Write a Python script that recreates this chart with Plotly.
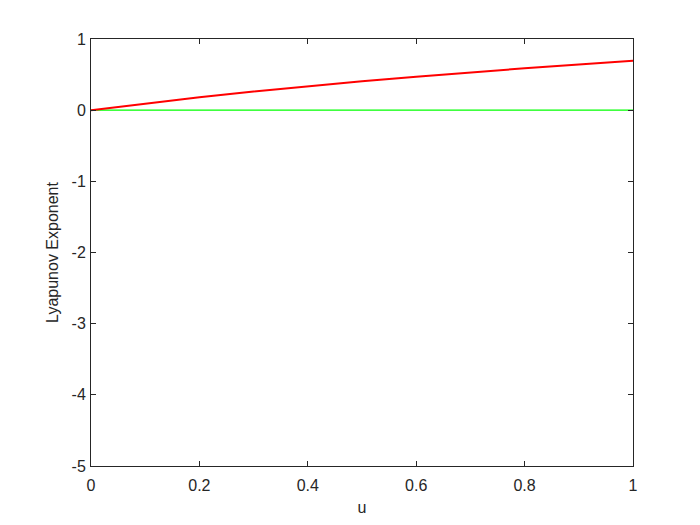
import plotly.graph_objects as go

u_vals = [0.0, 0.1, 0.2, 0.3, 0.4, 0.5, 0.6, 0.7, 0.8, 0.9, 1.0]
lyap_red = [0.0, 0.095, 0.182, 0.262, 0.336, 0.405, 0.470, 0.531, 0.588, 0.642, 0.693]
lyap_green = [0.0] * len(u_vals)

x_ticks = [0, 0.2, 0.4, 0.6, 0.8, 1]
x_tick_labels = ["0", "0.2", "0.4", "0.6", "0.8", "1"]
y_ticks = [-5, -4, -3, -2, -1, 0, 1]
y_tick_labels = ["-5", "-4", "-3", "-2", "-1", "0", "1"]

fig = go.Figure()
fig.add_trace(go.Scatter(x=u_vals, y=lyap_green, mode="lines",
                         line=dict(color="#00ff00", width=1.2), showlegend=False))
fig.add_trace(go.Scatter(x=u_vals, y=lyap_red, mode="lines",
                         line=dict(color="#ff0000", width=2), showlegend=False))

axis_common = dict(showgrid=False, zeroline=False, showline=True, linecolor="#262626",
                   linewidth=1, mirror="ticks", ticks="inside", ticklen=5,
                   tickcolor="#262626", tickfont=dict(size=16, color="#262626"))

fig.update_layout(
    width=700, height=525,
    paper_bgcolor="white", plot_bgcolor="white",
    margin=dict(l=83, r=75, t=31, b=67),
    font=dict(family="Liberation Sans, Arial, sans-serif", size=16, color="#262626"),
    xaxis=dict(range=[0, 1], tickvals=x_ticks, ticktext=x_tick_labels, ticklabelstandoff=5,
               title=dict(text="u", font=dict(size=16), standoff=8), **axis_common),
    yaxis=dict(range=[-5, 1], tickvals=y_ticks, ticktext=y_tick_labels, ticklabelstandoff=1,
               title=dict(text="Lyapunov Exponent", font=dict(size=16), standoff=8), **axis_common),
)

fig.write_html("out.html")
